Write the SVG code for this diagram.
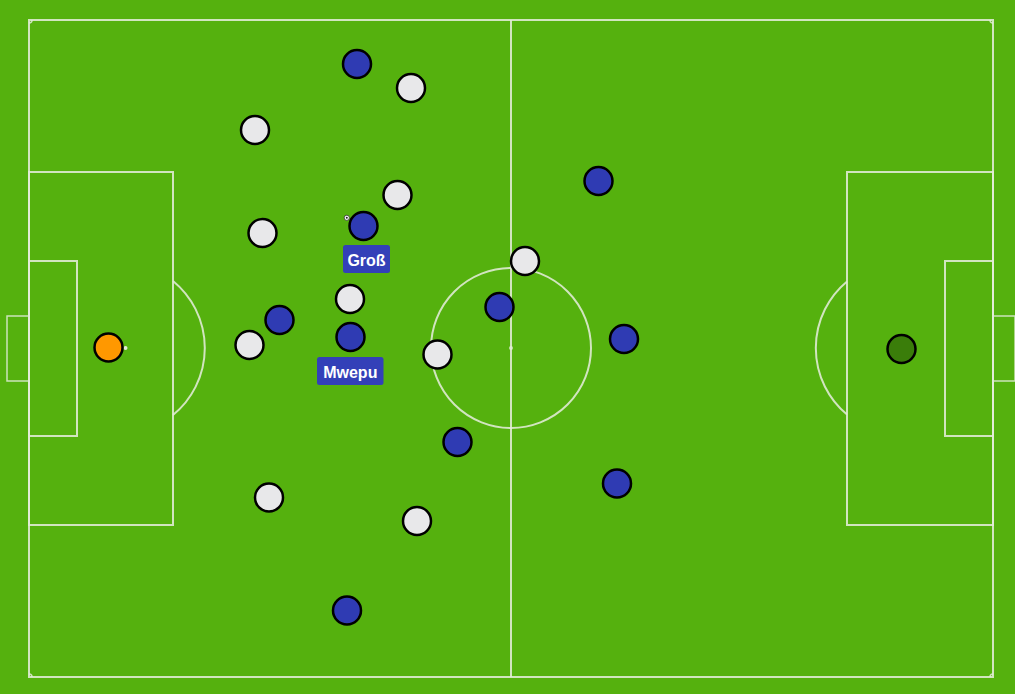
<svg xmlns="http://www.w3.org/2000/svg" width="1015" height="694" viewBox="0 0 1015 694">
<style>
.ln{fill:none;stroke:#e2ecd8;stroke-opacity:0.88;stroke-width:2}
.gl{fill:none;stroke:#e2ecd8;stroke-opacity:0.85;stroke-width:1.5}
.p{stroke:#000;stroke-width:2.5}
.w{fill:#e8e8ea}
.b{fill:#2f3bb3}
.lbl{fill:#3340b8}
.t{font-family:"Liberation Sans",Arial,sans-serif;font-weight:bold;font-size:16px;fill:#ffffff;text-anchor:middle}
</style>
<rect x="0" y="0" width="1015" height="694" fill="#55b10e"/>
<g id="pitch">
<rect class="ln" x="29" y="20" width="964" height="657"/>
<line class="ln" x1="511" y1="20" x2="511" y2="677"/>
<circle class="ln" cx="511" cy="348" r="80"/>
<circle cx="511" cy="348" r="2" fill="#e2ecd8" fill-opacity="0.8"/>
<rect class="ln" x="29" y="172" width="144" height="353"/>
<rect class="ln" x="29" y="261" width="48" height="175"/>
<rect class="gl" x="7" y="316" width="22" height="65"/>
<circle cx="125.5" cy="348" r="2" fill="#e2ecd8"/>
<path class="ln" d="M173 281 A86.5 86.5 0 0 1 173 415"/>
<rect class="ln" x="847" y="172" width="146" height="353"/>
<rect class="ln" x="945" y="261" width="48" height="175"/>
<rect class="gl" x="993" y="316" width="22" height="65"/>
<circle cx="896.5" cy="348" r="2" fill="#e2ecd8"/>
<path class="ln" d="M847 281.5 A86.5 86.5 0 0 0 847 414.5"/>
<path class="gl" d="M29 23 A3 3 0 0 0 32 20 M990 20 A3 3 0 0 0 993 23 M993 674 A3 3 0 0 0 990 677 M32 677 A3 3 0 0 0 29 674"/>
</g>
<g id="players">
<g id="gk-left"><circle class="p" cx="108.5" cy="347.5" r="14" fill="#ff9800"/></g>
<g id="gk-right"><circle class="p" cx="901.5" cy="349" r="14" fill="#3a7d0a"/></g>
<g id="w1"><circle class="p w" cx="255" cy="130" r="14"/></g>
<g id="w2"><circle class="p w" cx="411" cy="88" r="14"/></g>
<g id="w3"><circle class="p w" cx="397.5" cy="195" r="14"/></g>
<g id="w4"><circle class="p w" cx="262.5" cy="233" r="14"/></g>
<g id="w5"><circle class="p w" cx="350" cy="299" r="14"/></g>
<g id="w6"><circle class="p w" cx="249.5" cy="345" r="14"/></g>
<g id="w7"><circle class="p w" cx="437.5" cy="354.5" r="14"/></g>
<g id="w8"><circle class="p w" cx="525" cy="261" r="14"/></g>
<g id="w9"><circle class="p w" cx="269" cy="497.5" r="14"/></g>
<g id="w10"><circle class="p w" cx="417" cy="521" r="14"/></g>
<g id="b1"><circle class="p b" cx="357" cy="64" r="14"/></g>
<g id="b2"><circle class="p b" cx="598.5" cy="181" r="14"/></g>
<g id="b-gross"><circle class="p b" cx="363.5" cy="226" r="14"/></g>
<g id="b3"><circle class="p b" cx="279.5" cy="320" r="14"/></g>
<g id="b-mwepu"><circle class="p b" cx="350.5" cy="337" r="14"/></g>
<g id="b4"><circle class="p b" cx="499.5" cy="307" r="14"/></g>
<g id="b5"><circle class="p b" cx="624" cy="339" r="14"/></g>
<g id="b6"><circle class="p b" cx="457.5" cy="442" r="14"/></g>
<g id="b7"><circle class="p b" cx="617" cy="483.5" r="14"/></g>
<g id="b8"><circle class="p b" cx="347" cy="610.5" r="14"/></g>
</g>
<g id="ball">
<circle cx="346.8" cy="217.8" r="2.6" fill="#ffffff" stroke="#333" stroke-width="0.8"/>
<circle cx="346.8" cy="217.8" r="1" fill="#222"/>
</g>
<g id="label-gross">
<rect class="lbl" x="343" y="245" width="47" height="28" rx="2.5"/>
<text class="t" x="366.5" y="265.5">Groß</text>
</g>
<g id="label-mwepu">
<rect class="lbl" x="317" y="357" width="66.5" height="28" rx="2.5"/>
<text class="t" x="350.3" y="377.5">Mwepu</text>
</g>
</svg>
